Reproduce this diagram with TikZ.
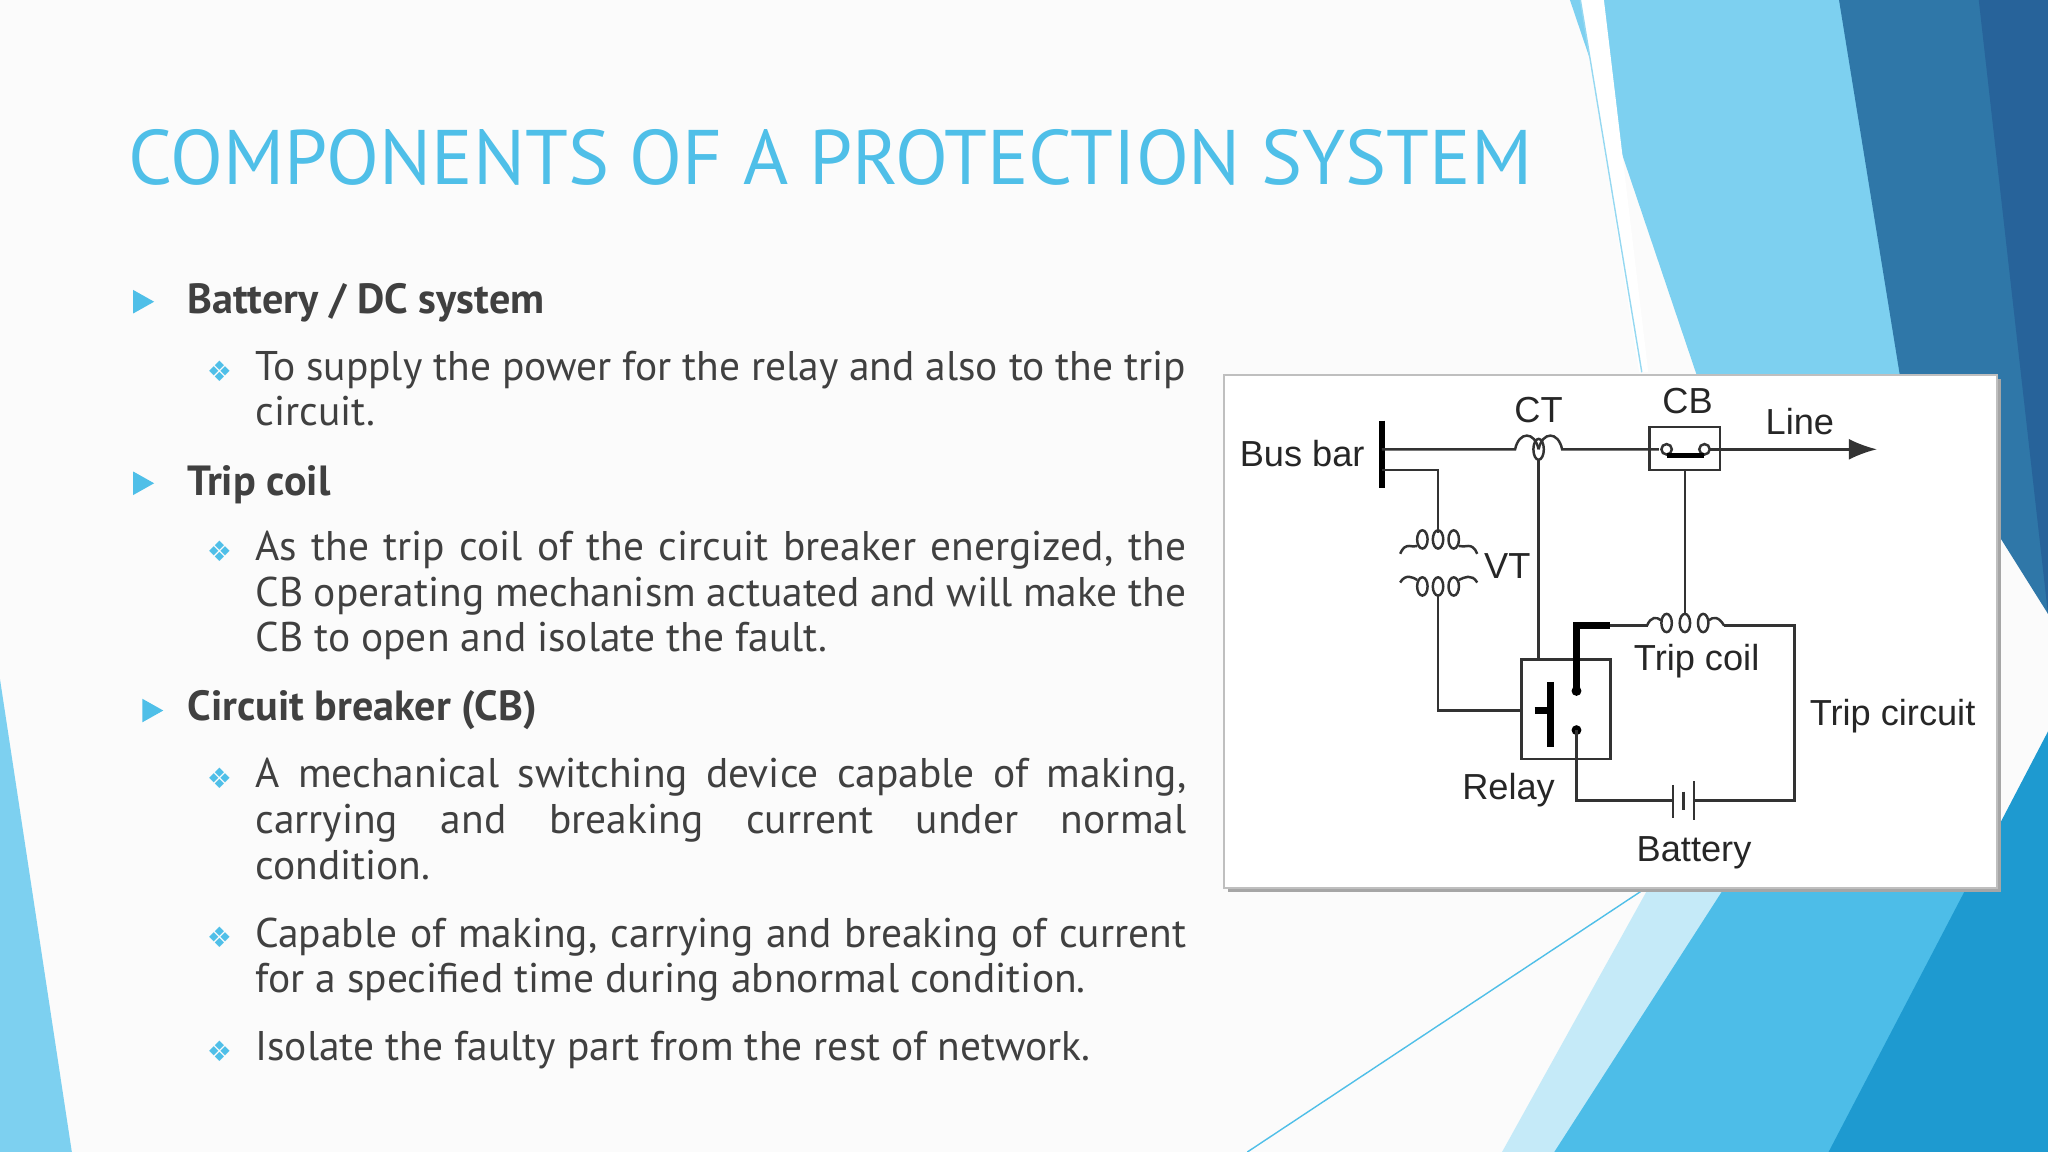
\documentclass[tikz,border=0pt]{standalone}
\usepackage{fontspec}
\setmainfont{PT Sans}
\newfontfamily\diag{Liberation Sans}
\newfontfamily\sym{DejaVu Sans}
\usetikzlibrary{arrows.meta}
\hyphenpenalty=10000
\exhyphenpenalty=10000
\definecolor{ttl}{HTML}{4FBFE8}
\definecolor{txt}{HTML}{404040}
\definecolor{lb}{HTML}{7DD0F0}
\definecolor{mb}{HTML}{4DBDE8}
\definecolor{db}{HTML}{2F77A8}
\definecolor{ddb}{HTML}{27639A}
\definecolor{vb}{HTML}{1E9AD0}
\definecolor{pb}{HTML}{C5EAF8}
\definecolor{wire}{HTML}{333333}
\tikzset{
 body/.style={anchor=north west,text width=9.31cm,align=justify,font=\fontsize{11.8}{13}\selectfont,text=txt,inner sep=0pt},
 head/.style={anchor=base west,font=\fontsize{12}{13}\selectfont\bfseries,text=txt,inner sep=0pt},
 tri/.style={fill=ttl,draw=none},
 dia/.style={text=ttl,font=\sym\fontsize{8}{8}\selectfont,inner sep=0pt},
 lab/.style={font=\diag\fontsize{10.3}{11}\selectfont,text=black!85,inner sep=0pt},
 w/.style={draw=wire,line width=0.7pt},
}
\begin{document}
\begin{tikzpicture}[x={(0.01306cm,0)},y={(0,-0.01306cm)}]
\useasboundingbox (0,0) rectangle (1568,882);
\fill[white!97!gray] (0,0) rectangle (1568,882);
% background shapes
\fill[lb] (1202,0) -- (1410,0) -- (1460,290) -- (1300,290) -- cycle;
\fill[db] (1408,0) -- (1568,0) -- (1568,470) -- (1455,290) -- cycle;
\fill[ddb] (1515,0) -- (1568,0) -- (1568,470) -- cycle;
\fill[white] (1210,0) -- (1228,0) -- (1262,285) -- (1255,285) -- cycle;
\draw[ttl!60,line width=0.4pt] (1210,0) -- (1257,285);
\fill[pb] (1150,882) -- (1262,680) -- (1330,680) -- (1250,882) -- cycle;
\fill[mb] (1190,882) -- (1320,680) -- (1530,680) -- (1568,600) -- (1568,882) -- cycle;
\fill[vb] (1400,882) -- (1568,560) -- (1568,882) -- cycle;
\draw[ttl,line width=0.4pt] (955,882) -- (1260,680);
\fill[lb] (0,520) -- (55,882) -- (0,882) -- cycle;
% title
\node[anchor=base west,inner sep=0pt,text=ttl,font=\fontsize{22}{24}\selectfont] (title) at (98,141) {COMPONENTS OF A PROTECTION SYSTEM};
% bullets
\fill[tri] (102,222) -- (118,231) -- (102,240) -- cycle;
\node[head] (h1) at (143,240) {Battery / DC system};
\node[dia] (d1) at (168,284) {❖};
\node[body] (b1) at (195,268) {To supply the power for the relay and also to the trip circuit.};
\fill[tri] (102,361) -- (118,370) -- (102,379) -- cycle;
\node[head] (h2) at (143,379) {Trip coil};
\node[dia] (d2) at (168,422) {❖};
\node[body] (b2) at (195,406) {As the trip coil of the circuit breaker energized, the CB operating mechanism actuated and will make the CB to open and isolate the fault.};
\fill[tri] (109,535) -- (125,544) -- (109,553) -- cycle;
\node[head] (h3) at (143,552) {Circuit breaker (CB)};
\node[dia] (d3) at (168,596) {❖};
\node[body] (b3) at (195,580) {A mechanical switching device capable of making, carrying and breaking current under normal condition.};
\node[dia] (d4) at (168,718) {❖};
\node[body] (b4) at (195,702) {Capable of making, carrying and breaking of current for a specified time during abnormal condition.};
\node[dia] (d5) at (168,805) {❖};
\node[body] (b5) at (195,789) {Isolate the faulty part from the rest of network.};
% diagram box
\fill[black!35] (940,290) rectangle (1532,683);
\fill[white] (937,287) rectangle (1529,680);
\draw[black!25,line width=0.4pt] (937,287) rectangle (1529,680);
% circuit
\draw[black,line width=1.6pt] (1058,322) -- (1058,374);
\coordinate (bus) at (1058,344);
\draw[w] (bus) -- (1160,344) .. controls (1163,330) and (1175,330) .. (1178,344);
\draw[w] (1178,344) .. controls (1181,330) and (1193,330) .. (1196,344) -- (1270,344);
\draw[w] (1178,344) ellipse (4 and 8);
\draw[w] (1263,327) rectangle (1317,360);
\draw[w] (1276,344) circle (4); \draw[w] (1305,344) circle (4);
\draw[black,line width=1.4pt] (1276,349) -- (1305,349);
\draw[w,-{Latex[length=8pt,width=6pt]}] (1309,344) -- (1437,344);
\node[lab] (busl) at (997,347) {Bus bar};
\node[lab] (ctl) at (1178,314) {CT};
\node[lab] (cbl) at (1292,307) {CB};
\node[lab] (linel) at (1378,323) {Line};
% VT
\draw[w] (1058,360) -- (1101,360) -- (1101,408);
\foreach \xx in {1089,1101,1113}{\draw[w] (\xx,413) ellipse (4 and 7);
 \draw[w] (\xx,449) ellipse (4 and 7);}
\draw[w] (1072,424) .. controls (1076,414) and (1082,420) .. (1085,418);
\draw[w] (1117,418) .. controls (1121,420) and (1127,414) .. (1131,424);
\draw[w] (1072,446) .. controls (1076,439) and (1082,442) .. (1085,444);
\draw[w] (1117,444) .. controls (1121,442) and (1127,439) .. (1131,446);
\draw[w] (1101,456) -- (1101,544) -- (1165,544);
\node[lab] (vtl) at (1154,433) {VT};
% CT secondary
\draw[w] (1178,352) -- (1178,505);
% relay
\draw[w] (1165,505) rectangle (1233,581);
\draw[black,line width=1.8pt] (1187,522) -- (1187,572);
\draw[black,line width=1.8pt] (1175,544) -- (1187,544);
\fill (1207,529) circle (3.8); \fill (1207,559) circle (3.8);
\draw[black,line width=1.8pt] (1207,529) -- (1207,479) -- (1233,479);
\draw[w] (1233,479) -- (1262,479);
\foreach \xx in {1276,1290,1304}{\draw[w] (\xx,477) ellipse (4 and 7);}
\draw[w] (1261,479) .. controls (1264,472) and (1268,472) .. (1272,475);
\draw[w] (1308,475) .. controls (1312,472) and (1316,472) .. (1320,479);
\draw[w] (1320,479) -- (1374,479) -- (1374,613) -- (1300,613);
\draw[w] (1290,360) -- (1290,470);
\draw[w] (1207,559) -- (1207,613) -- (1281,613);
\draw[w] (1281,601) -- (1281,626);
\draw[w,line width=0.9pt] (1289,606) -- (1289,620);
\draw[w] (1297,598) -- (1297,628);
\draw[w] (1297,613) -- (1300,613);
\node[lab] (tcl) at (1299,506) {Trip coil};
\node[lab] (trcl) at (1449,548) {Trip circuit};
\node[lab] (rel) at (1155,605) {Relay};
\node[lab] (batl) at (1297,653) {Battery};
\end{tikzpicture}
\end{document}
